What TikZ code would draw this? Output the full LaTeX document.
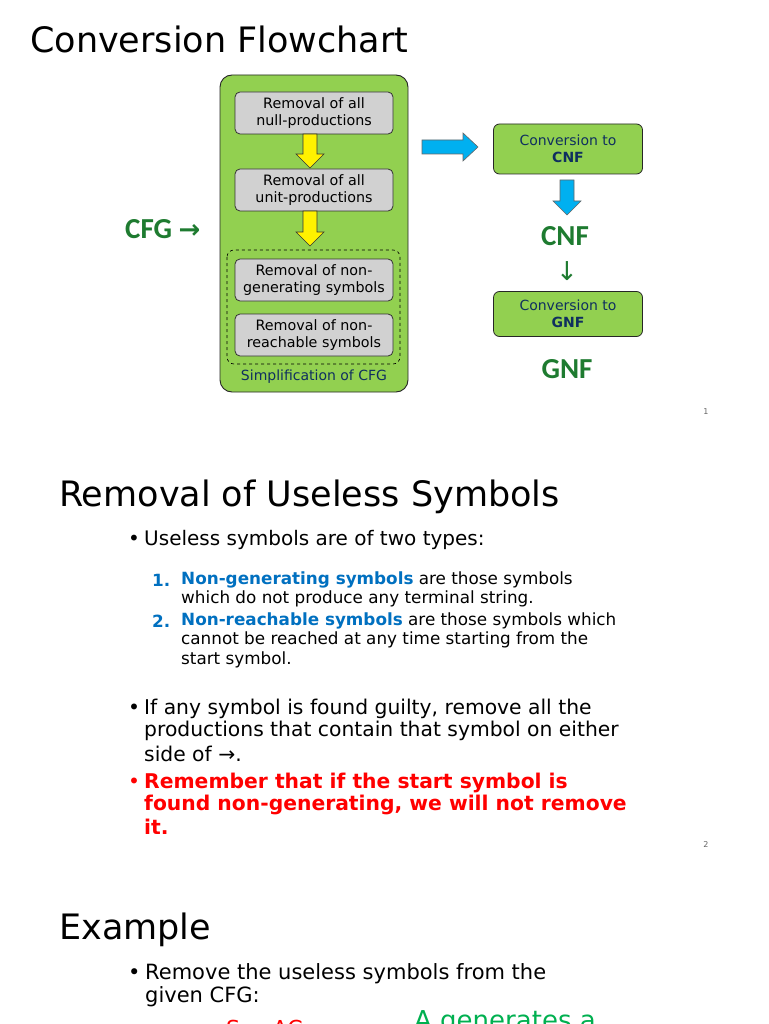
\documentclass[tikz,border=0pt]{standalone}
\usepackage{fontspec}
\setmainfont{DejaVu Sans}
\newfontfamily\calib{Carlito}
\definecolor{lgreen}{HTML}{92D050}
\definecolor{dgreen}{HTML}{1E7B30}
\definecolor{navy}{HTML}{0F2F5F}
\definecolor{sblue}{HTML}{00B0F0}
\definecolor{lblue}{HTML}{0070C0}
\definecolor{egreen}{HTML}{00B050}
\newcommand{\darr}[4]{% x, ytop, ybottom, style
  \draw[#4] (#1-7,#2) -- (#1+7,#2) -- (#1+7,#3-14) -- (#1+14,#3-14) -- (#1,#3) -- (#1-14,#3-14) -- (#1-7,#3-14) -- cycle;}
\begin{document}
\begin{tikzpicture}[x=1pt,y=-1pt,
  graybox/.style={draw=black!80,line width=0.8pt,fill=black!18,rounded corners=5pt,minimum width=158pt,minimum height=42pt,align=center,font=\fontsize{14.3}{17}\selectfont,inner sep=1pt},
  gbox/.style={draw=black!85,line width=0.8pt,fill=lgreen,rounded corners=6pt,minimum width=149pt,align=center,font=\fontsize{14}{17}\selectfont\color{navy},inner sep=1pt},
  txt/.style={anchor=west,inner sep=0pt},
  yel/.style={draw=black!80,fill=yellow,line width=0.6pt},
  blu/.style={draw=black!60,fill=sblue,line width=0.6pt},
  big/.style={font=\calib\bfseries\fontsize{29}{31}\selectfont,text=dgreen,inner sep=0pt}]
\path[use as bounding box,fill=white] (0,0) rectangle (768,1024);
\begin{scope}
\clip (0,0) rectangle (768,1024);
\node[txt,font=\fontsize{35}{40}\selectfont] (t1) at (30,39) {Conversion Flowchart};
\draw[black!85,line width=0.9pt,fill=lgreen,rounded corners=12pt] (220,75) rectangle (408,392);
\node[graybox] (b1) at (314,113) {Removal of all\\null-productions};
\node[graybox] (b2) at (314,190) {Removal of all\\unit-productions};
\draw[dashed,line width=0.6pt,rounded corners=7pt] (227,250) rectangle (400,364);
\node[graybox] (b3) at (314,280) {Removal of non-\\generating symbols};
\node[graybox] (b4) at (314,335) {Removal of non-\\reachable symbols};
\darr{310}{134}{168}{yel}
\darr{310}{211}{246}{yel}
\node[font=\fontsize{14}{16}\selectfont,text=navy] (sc) at (314,377) {Simplification of CFG};
\node[big,anchor=west] (cfg) at (125,229) {CFG {\fontspec{DejaVu Sans}\fontsize{26}{28}\selectfont →}};
\draw[blu] (422,140) -- (463,140) -- (463,133) -- (478,147) -- (463,161) -- (463,154) -- (422,154) -- cycle;
\node[gbox,minimum height=50pt] (c1) at (568,149) {Conversion to\\\textbf{CNF}};
\darr{567}{180}{215}{blu}
\node[big] (cnf) at (565,236) {CNF};
\node[font=\fontsize{26}{28}\selectfont,text=dgreen] (da) at (567,271) {↓};
\node[gbox,minimum height=45pt] (c2) at (568,314) {Conversion to\\\textbf{GNF}};
\node[big] (gnf) at (567,369) {GNF};
\node[font=\fontsize{8}{9}\selectfont,text=black!60] (p1) at (706,412) {1};
\node[txt,font=\fontsize{35}{40}\selectfont] (t2) at (59,497) {Removal of Useless Symbols};
\node[txt,font=\fontsize{20}{24}\selectfont] (u0) at (128,540) {•};
\node[txt,font=\fontsize{20}{24}\selectfont] (u1) at (144,540) {Useless symbols are of two types:};
\begin{scope}[every node/.append style={txt,font=\fontsize{16.8}{19}\selectfont}]
\node (n1) at (152,580) {\textcolor{lblue}{\textbf{1.}}};
\node (l1) at (181,580) {\textcolor{lblue}{\textbf{Non-generating symbols}} are those symbols};
\node (l2) at (181,599) {which do not produce any terminal string.};
\node (n2) at (152,621) {\textcolor{lblue}{\textbf{2.}}};
\node (l3) at (181,621) {\textcolor{lblue}{\textbf{Non-reachable symbols}} are those symbols which};
\node (l4) at (181,640) {cannot be reached at any time starting from the};
\node (l5) at (181,660) {start symbol.};
\end{scope}
\begin{scope}[every node/.append style={txt,font=\fontsize{20.3}{24}\selectfont}]
\node (a1) at (128,709) {•};
\node (a2) at (144,709) {If any symbol is found guilty, remove all the};
\node (a3) at (144,731) {productions that contain that symbol on either};
\node (a4) at (144,754) {side of →.};
\node[text=red] (r0) at (128,783) {•};
\node[text=red] (r1) at (144,783) {\textbf{Remember that if the start symbol is}};
\node[text=red] (r2) at (144,805) {\textbf{found non-generating, we will not remove}};
\node[text=red] (r3) at (144,827) {\textbf{it.}};
\end{scope}
\node[font=\fontsize{8}{9}\selectfont,text=black!60] (p2) at (706,845) {2};
\node[txt,font=\fontsize{35}{40}\selectfont] (t3) at (59,930) {Example};
\begin{scope}[every node/.append style={txt,font=\fontsize{21}{24}\selectfont}]
\node (e0) at (128,974) {•};
\node (e1) at (145,974) {Remove the useless symbols from the};
\node (e2) at (145,997) {given CFG:};
\node[text=red,font=\fontsize{22}{26}\selectfont] (e3) at (226,1028) {S → AC};
\node[text=egreen,font=\fontsize{26}{28}\selectfont] (e4) at (414,1023) {A generates a};
\end{scope}
\end{scope}
\end{tikzpicture}
\end{document}
